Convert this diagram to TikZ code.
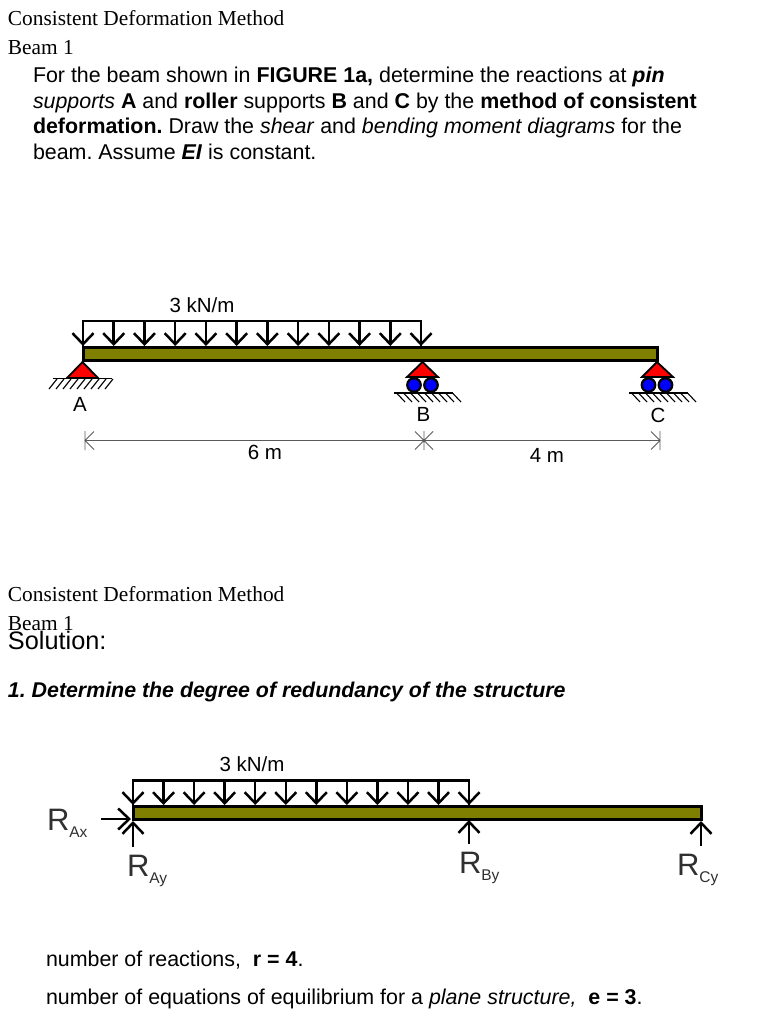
\documentclass[tikz,border=0pt]{standalone}
\usepackage{fontspec}
\setmainfont{Liberation Sans}
\newfontfamily\serifhead{Liberation Serif}
\usetikzlibrary{arrows.meta}
\frenchspacing
\definecolor{beamolive}{HTML}{808000}
\definecolor{dimgray}{HTML}{5A5A5A}
\definecolor{reactgray}{HTML}{303030}
\tikzset{
  txt/.style={anchor=base west,inner sep=0pt,outer sep=0pt,font=\fontsize{21.4}{25}\selectfont},
  head/.style={anchor=base west,inner sep=0pt,outer sep=0pt,font=\serifhead\fontsize{21.35}{25}\selectfont},
  lbl/.style={anchor=center,inner sep=0pt,outer sep=0pt,font=\fontsize{20.5}{24}\selectfont,text=black},
  react/.style={anchor=base west,inner sep=0pt,outer sep=0pt,text=reactgray},
  beambar/.style={draw=black,line width=3pt,fill=beamolive,inner sep=0pt,outer sep=0pt},
  loadline/.style={line width=2.5pt,draw=black},
  forcearrow/.style={line width=2.5pt,draw=black,-{Straight Barb[length=11pt,width=21pt,line width=2.5pt]}},
  pinshape/.style={draw=black,line width=1.8pt,fill=red,line join=miter},
  rollershape/.style={circle,draw=black,line width=2.2pt,fill=blue,minimum size=13.5pt,inner sep=0pt},
  ground/.style={line width=1.8pt,draw=black},
  hatch/.style={line width=1.1pt,draw=black},
  dimline/.style={line width=1.1pt,draw=dimgray},
}
\newcommand{\rlabel}[3]{\node[react] at (#1) {\fontsize{31}{32}\selectfont R\raisebox{-7pt}{\fontsize{15.5}{16}\selectfont #2}};}
\begin{document}
\begin{tikzpicture}[x=1pt,y=-1pt]
\useasboundingbox (0,0) rectangle (768,1024);
\fill[white] (0,0) rectangle (768,1024);

% Page headers and statement
\node[head] (h1) at (8,25.5) {Consistent Deformation Method};
\node[head] (h2) at (8,54.5) {Beam 1};
\node[txt] (p1) at (33,82.7) {For the beam shown in \textbf{FIGURE 1a,} determine the reactions at \textbf{\textit{pin}}};
\node[txt] (p2) at (33,108.5) {\textit{supports} \textbf{A} and \textbf{roller} supports \textbf{B} and \textbf{C} by the \textbf{method of consistent}};
\node[txt] (p3) at (33,133.7) {\textbf{deformation.} Draw the \textit{shear} and \textit{bending moment diagrams} for the};
\node[txt] (p4) at (33,159.5) {beam. Assume \textbf{\textit{EI}} is constant.};

% FIGURE 1a: load
\node[lbl] (load1) at (202,305) {3 kN/m};
\draw[loadline] (83,346) -- (83,321) -- (421,321) -- (421,346);
\foreach \i in {0,...,11} {
  \coordinate (ta\i) at ({83+\i*30.73},321);
  \coordinate (ba\i) at ({83+\i*30.73},346);
  \draw[forcearrow] (ta\i) -- (ba\i);
}
% FIGURE 1a: beam
\node[beambar,minimum width=574pt,minimum height=13pt] (beam1) at (370,353.5) {};

% pin A
\draw[pinshape] (82.5,362) -- (98,378) -- (67,378) -- cycle;
\draw[ground] (53,378.5) -- (112,378.5);
\foreach \x in {57,64,...,113} \draw[hatch] (\x,379) -- (\x-8,389);
\node[lbl] (A) at (80,404) {A};

% roller B
\draw[pinshape] (422.5,362) -- (438,377) -- (407,377) -- cycle;
\node[rollershape] (b1) at (414,385) {};
\node[rollershape] (b2) at (431,385) {};
\draw[ground] (394,393) -- (453,393);
\foreach \x in {397,404,...,453} \draw[hatch] (\x,393.5) -- (\x+8,402);
\node[lbl] (B) at (423.5,414) {B};

% roller C
\draw[pinshape] (657,362) -- (673,377) -- (642,377) -- cycle;
\node[rollershape] (c1) at (648.5,385) {};
\node[rollershape] (c2) at (665.5,385) {};
\draw[ground] (629,393) -- (688,393);
\foreach \x in {632,639,...,688} \draw[hatch] (\x,393.5) -- (\x+8,402);
\node[lbl] (C) at (658,415.5) {C};

% dimensions
\coordinate (d0) at (85,440.5);
\coordinate (d1) at (424,440.5);
\coordinate (d2) at (660,440.5);
\draw[dimline] (d0) -- (d1) -- (d2);
\draw[dimline,line width=0.8pt] (85,431) -- (85,450) (94,431.5) -- (85,440.5) -- (94,449.5);
\draw[dimline,line width=0.8pt] (424,431) -- (424,450) (415,431.5) -- (433,449.5) (433,431.5) -- (415,449.5);
\draw[dimline,line width=0.8pt] (660,431) -- (660,450) (651,431.5) -- (660,440.5) -- (651,449.5);
\node[lbl] (d6) at (265,452) {6 m};
\node[lbl] (d4) at (547,455.5) {4 m};

% Second page
\node[head] (h3) at (8,601.5) {Consistent Deformation Method};
\node[head] (h4) at (8,630.5) {Beam 1};
\node[txt,font=\fontsize{25.3}{29}\selectfont] (sol) at (8,649.5) {Solution:};
\node[txt,font=\bfseries\itshape\fontsize{21.35}{25}\selectfont] (s1) at (8,697.5) {1. Determine the degree of redundancy of the structure};

% Free body load
\node[lbl] (load2) at (252,764.5) {3 kN/m};
\draw[loadline] (133,805) -- (133,780.5) -- (469,780.5) -- (469,805);
\foreach \i in {0,...,11} {
  \coordinate (tb\i) at ({133+\i*30.55},780.5);
  \coordinate (bb\i) at ({133+\i*30.55},805);
  \draw[forcearrow] (tb\i) -- (bb\i);
}
\node[beambar,minimum width=568pt,minimum height=13pt] (beam2) at (417,812.5) {};

% Reactions
\coordinate (ax0) at (101,819);
\coordinate (ax1) at (131,819);
\coordinate (ay0) at (133,847);
\coordinate (ay1) at (133,821);
\coordinate (by0) at (469,844);
\coordinate (by1) at (469,820);
\coordinate (cy0) at (701,846);
\coordinate (cy1) at (701,821);
\draw[forcearrow] (ax0) -- (ax1);
\draw[forcearrow] (ay0) -- (ay1);
\draw[forcearrow] (by0) -- (by1);
\draw[forcearrow] (cy0) -- (cy1);
\rlabel{47,830}{Ax}{}
\rlabel{127,876}{Ay}{}
\rlabel{459,873}{By}{}
\rlabel{677,875}{Cy}{}

\node[txt] (n1) at (46,966.5) {number of reactions,\ \ \textbf{r = 4}.};
\node[txt] (n2) at (46,1004.5) {number of equations of equilibrium for a \textit{plane structure,}\ \ \textbf{e = 3}.};
\end{tikzpicture}
\end{document}
